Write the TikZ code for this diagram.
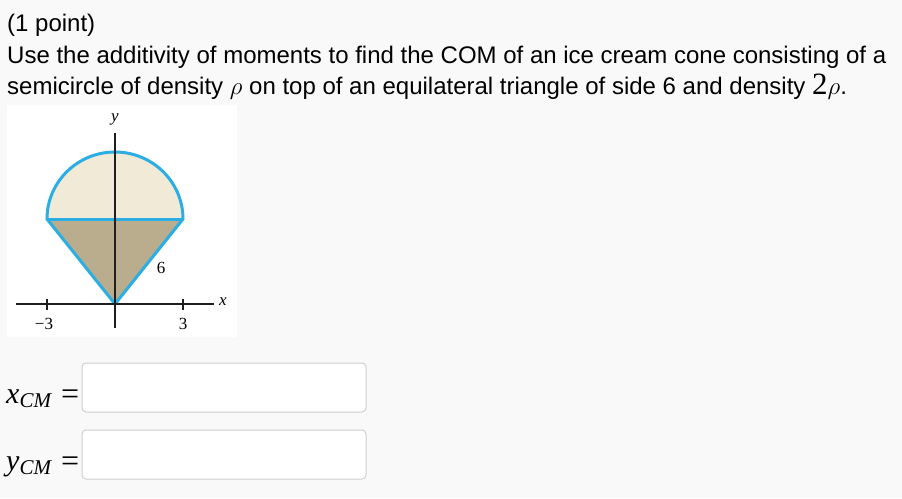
\documentclass[tikz,border=0pt]{standalone}
\usepackage{fontspec}
\setmainfont{Liberation Sans}
\newfontfamily\tms{Liberation Serif}
\definecolor{bgcol}{HTML}{F9F9F9}
\definecolor{cream}{HTML}{F1EAD7}
\definecolor{tan}{HTML}{BAAD8D}
\definecolor{outl}{HTML}{2AAEE4}
\definecolor{boxline}{HTML}{CFCFCF}
\definecolor{axcol}{HTML}{1E1E1E}
\begin{document}
\begin{tikzpicture}[x=1pt,y=-1pt,
  bodytext/.style={anchor=base west,inner sep=0pt,font=\fontsize{24}{28}\selectfont},
  axislbl/.style={inner sep=0pt,font=\tms\fontsize{17}{17}\selectfont},
  ansbox/.style={draw=boxline,fill=white,line width=1pt,rounded corners=4pt},
  axisline/.style={draw=axcol,line width=1.1pt},
  outline/.style={draw=outl,line width=3pt,line join=round,line cap=round}]
\useasboundingbox (0,0) rectangle (902,498);
\fill[bgcol] (0,0) rectangle (902,498);
% text
\node[bodytext] (l1) at (7,31.5) {(1 point)};
\node[bodytext] (l2) at (7,63) {Use the additivity of moments to find the COM of an ice cream cone consisting of a};
\node[bodytext] (l3) at (7,94.5) {semicircle of density {\fontsize{26}{26}\selectfont$\rho$} on top of an equilateral triangle of side 6 and density {\tms\fontsize{31}{31}\selectfont 2$\rho$}.};
% figure panel
\fill[white] (7,105) rectangle (237,337);
\fill[tan] (47,219) -- (183,219) -- (115,304) -- cycle;
\fill[cream] (47,219) arc[start angle=180,end angle=360,x radius=68,y radius=67] -- cycle;
\draw[outline] (183,219) -- (115,304) -- (47,219) arc[start angle=180,end angle=360,x radius=68,y radius=67];
\draw[outline] (47,219) -- (183,219);
% axes
\coordinate (ybot) at (115,328);
\coordinate (ytop) at (115,133);
\coordinate (xl) at (16,304);
\coordinate (xr) at (214,304);
\draw[axisline] (ybot) -- (ytop);
\draw[axisline] (xl) -- (xr);
\draw[axisline] (47,299) -- (47,310);
\draw[axisline] (183,299) -- (183,310);
\node[axislbl] (ylab) at (115,119) {\itshape y};
\node[axislbl,anchor=west] (xlab) at (219,302) {\itshape x};
\node[axislbl] (m3) at (44,324) {−3};
\node[axislbl] (p3) at (183,324) {3};
\node[axislbl] (six) at (161,268) {6};
% answer rows
\node[anchor=base west,inner sep=0pt] (xcm) at (6,403) {\tms\fontsize{30}{30}\selectfont\itshape x\raisebox{-4pt}{\fontsize{21}{21}\selectfont CM}};
\node[anchor=base west,inner sep=0pt] (eq1) at (61,404) {\tms\fontsize{32}{32}\selectfont =};
\draw[ansbox] (82,363) rectangle (366,412);
\node[anchor=base west,inner sep=0pt] (ycm) at (6,470) {\tms\fontsize{30}{30}\selectfont\itshape y\raisebox{-4pt}{\fontsize{21}{21}\selectfont CM}};
\node[anchor=base west,inner sep=0pt] (eq2) at (61,471) {\tms\fontsize{32}{32}\selectfont =};
\draw[ansbox] (82,430) rectangle (366,479);
\end{tikzpicture}
\end{document}
